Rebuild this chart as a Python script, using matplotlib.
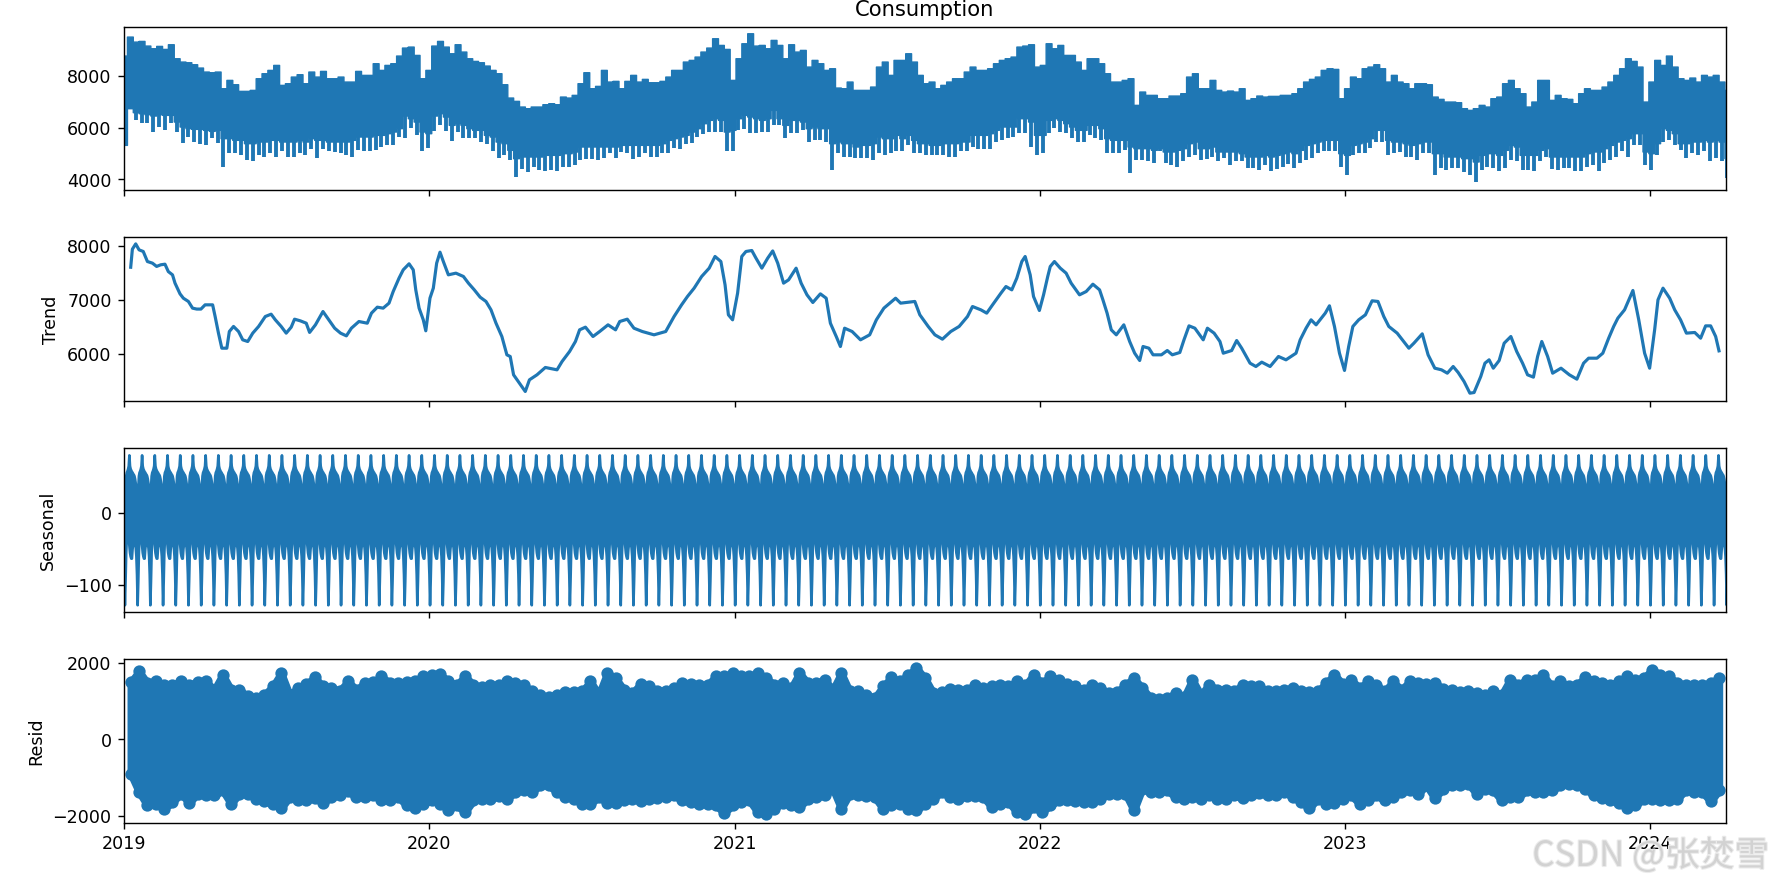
import numpy as np
import pandas as pd
import matplotlib
matplotlib.use("Agg")
import matplotlib.pyplot as plt
import matplotlib.dates as mdates
import matplotlib.patheffects as pe

START = pd.Timestamp("2019-01-01")
END_DAY = 1916
YEAR_LABELS = ["2019", "2020", "2021", "2022", "2023", "2024"]
TITLE = "Consumption"
YLABELS = ["Trend", "Seasonal", "Resid"]
WATERMARK = "CSDN @张焚雪"

# Consumption: weekly extremes (one value per 7 days)
consumption_high = [
    8772,9503,9310,9336,9157,9054,9144,9028,9208,8669,8541,8515,8438,8310,8156,8130,8156,7514,7835,7668,
    7412,7412,7450,7899,8092,8220,8412,7643,7707,7963,8053,7707,8156,7963,8181,7899,7899,7963,7771,7771,
    8181,8028,8028,8477,8220,8412,8477,8772,9080,9118,8797,7899,8220,9157,9336,9118,8861,9208,8926,8669,
    8566,8515,8387,8220,8092,7668,7155,7027,6809,6745,6809,6809,6898,6937,6898,7193,7155,7258,7707,8130,
    7514,7604,8220,7771,7797,7514,7797,8028,7771,
    7874,7745,7745,7797,7963,8220,8220,8541,8605,8733,8926,9080,9439,9182,9028,7835,8669,9246,9631,9157,
    9182,9054,9375,9182,8669,9208,8926,8990,8348,8605,8477,8220,8284,7540,7514,7771,7450,7450,7450,7578,
    8348,8541,8028,8605,8605,8861,8541,8028,7707,7771,7514,7643,7771,7899,7899,8156,8348,8220,8220,8284,
    8477,8605,8669,8733,9118,9157,9208,8348,8412,9246,9054,9182,8797,8797,8541,8220,8669,8669,8477,8092,
    7771,7771,7835,7899,6873,7386,7258,7258,7129,
    7129,7232,7232,7322,7963,8092,7514,7514,7835,7450,7386,7424,7386,7514,7065,7129,7232,7193,7219,7219,
    7258,7258,7322,7514,7771,7874,7963,8220,8284,8258,7129,7514,7963,7899,8284,8348,8438,8284,7771,8028,
    7771,7707,7514,7707,7707,7668,7193,7104,7001,7001,6975,6745,6680,6745,6873,6809,7129,7193,7707,7835,
    7514,7322,6809,7001,7835,7835,7065,7258,7129,7104,6937,7322,7514,7450,7450,7578,7771,8028,8284,8669,
    8566,8348,7001,7771,8605,8412,8772,8348,7899,7835,7925,7771,8028,7963,8028,7771,7450]
consumption_low = [
    5333,6745,6295,6167,6167,5821,6039,5911,6167,5846,5397,5654,5461,5359,5333,5590,5397,4461,5012,5012,
    4948,4756,4692,4923,4884,5012,4846,5077,4846,4859,5012,4948,5179,4820,5179,5077,5051,5012,4948,4884,
    5141,5077,5102,5141,5269,5333,5333,5654,5590,5975,5718,5077,5205,5872,6103,5872,5487,5846,5590,5590,
    5590,5461,5359,5102,4820,4948,4756,4076,4409,4281,4461,4371,4345,4371,4307,4499,4499,4538,4756,4794,
    4794,4756,4820,5012,4820,5051,5012,4794,4884,
    5012,4846,4884,5012,5012,5205,5179,5359,5397,5654,5744,5821,5821,5846,5102,5102,5911,5949,5782,5782,
    5821,5846,6103,6103,5590,5782,5782,5911,5436,5526,5526,5461,4371,5012,4884,4884,4820,4820,4820,4756,
    5012,4948,5012,5102,5077,5333,5012,5012,4948,4948,4923,4948,4884,4884,5102,5102,5269,5179,5179,5179,
    5461,5526,5590,5654,5782,5782,5269,4948,5012,5782,5975,5846,5782,5590,5436,5436,5718,5590,5526,5012,
    5012,5012,5141,4243,4756,4756,4692,4628,5077,
    4628,4563,4499,4692,4884,4948,4756,4794,4884,4692,4820,4538,4717,4692,4435,4435,4371,4563,4307,4409,
    4499,4589,4435,4628,4756,4820,5012,5077,5077,5102,4461,4179,4948,5012,5012,5205,5461,5461,4948,5012,
    5051,4884,4884,4756,5012,5012,4153,4435,4371,4435,4435,4281,4179,3896,4371,4499,4435,4307,4435,4756,
    4717,4371,4371,4307,4692,4846,4409,4371,4435,4435,4307,4345,4499,4563,4345,4628,4756,4884,5077,4884,
    5333,5333,4563,4371,4948,5461,5526,5333,5141,4820,5012,4923,5077,4692,4820,4692,4050]
consumption_notch = [
    5333,6745,6591,6552,6513,6462,6513,6488,6488,6231,6039,5975,5949,5949,5911,5872,5911,5590,5590,5526,
    5526,5397,5397,5461,5461,5526,5526,5461,5461,5461,5526,5461,5590,5526,5526,5461,5461,5461,5461,5526,
    5654,5654,5654,5718,5718,5782,5846,5975,6462,6359,6231,5846,5782,6462,6552,6423,6103,6167,6103,5975,
    5911,5911,5718,5654,5461,5397,5141,4820,4884,4884,4884,4884,4948,4948,4948,5012,5012,5077,5269,5269,
    5269,5269,5269,5269,5269,5333,5333,5333,5333,
    5333,5333,5333,5397,5526,5590,5654,5718,5846,5975,6167,6295,6359,6295,5846,5911,6359,6488,6424,6359,
    6295,6359,6680,6359,6103,6295,6295,6231,5975,6039,5975,5975,5397,5461,5397,5397,5269,5333,5333,5397,
    5654,5590,5590,5718,5590,5718,5526,5397,5397,5333,5333,5397,5397,5397,5461,5461,5718,5718,5718,5782,
    5911,6039,6039,6039,6359,6359,6231,5718,5718,6295,6359,6295,6167,6039,5911,5911,6103,6103,5975,5590,
    5526,5526,5526,5269,5205,5205,5205,5141,5205,
    5077,5077,5141,5205,5397,5461,5205,5205,5269,5077,5077,5077,5077,5012,4884,4884,4884,4948,4884,4948,
    5012,5077,5012,5141,5333,5397,5461,5526,5526,5526,5012,4948,5333,5397,5461,5590,5911,5911,5526,5461,
    5461,5397,5333,5397,5461,5461,5012,5012,4884,4884,4884,4820,4820,4692,4948,5012,5012,4948,5141,5333,
    5269,4948,4948,4948,5141,5205,4884,4884,4884,4884,4884,4884,5012,5077,5077,5205,5333,5461,5526,5590,
    5782,5782,5077,5012,5397,5975,5911,5782,5397,5397,5461,5461,5526,5461,5526,5461,4820]

# Trend: day since 2019-01-01 and value
trend_day = [8,10,14,18,23,28,34,39,44,49,53,58,61,67,71,77,82,87,92,97,106,109,113,117,123,126,131,137,142,148,
    154,161,169,176,181,188,194,200,204,211,218,222,229,238,245,252,259,266,272,281,291,296,303,310,317,322,329,334,341,346,
    349,353,358,361,366,370,374,378,382,388,397,406,412,419,426,433,439,445,452,458,462,466,473,480,485,494,504,518,524,533,
    540,545,552,561,569,579,588,593,602,610,620,634,648,658,667,674,682,691,700,707,714,719,723,728,734,739,744,751,756,763,
    770,776,782,789,795,804,810,817,824,833,840,845,852,857,862,871,881,892,900,909,923,
    929,946,952,962,970,979,989,999,1009,1015,1025,1032,1039,1049,1055,1062,1068,1074,1078,1084,1088,1095,1100,1105,1108,1113,1120,1127,1133,1143,
    1151,1159,1167,1171,1176,1181,1187,1196,1203,1209,1215,1219,1226,1231,1241,1248,1254,1263,1268,1274,1281,1291,1296,1304,1311,1315,1325,1331,1337,1347,
    1354,1361,1371,1381,1390,1402,1407,1414,1420,1426,1437,1442,1448,1454,1460,1465,1470,1477,1485,1493,1500,1507,1513,1523,1537,1543,1553,1560,1568,1576,
    1583,1590,1596,1603,1610,1615,1623,1628,1633,1638,1645,1651,1659,1666,1673,1679,1686,1691,1696,1703,1709,1719,1729,1738,1746,1752,1762,1769,1776,1782,
    1787,1795,1805,1812,1819,1825,1831,1835,1841,1849,1855,1862,1869,1879,1886,1892,1898,1904,1908]
trend_value = [7600,7932,8030,7920,7890,7705,7675,7615,7645,7656,7520,7460,7307,7110,7030,6970,6847,6830,6830,6908,6908,6693,6386,6110,6110,6417,6510,6417,6264,6233,
    6387,6510,6693,6736,6632,6510,6387,6497,6644,6613,6570,6400,6540,6785,6632,6478,6387,6337,6478,6601,6570,6755,6865,6847,6939,7153,7400,7552,7663,7552,
    7184,6847,6632,6430,7031,7215,7675,7877,7705,7460,7491,7430,7307,7184,7049,6970,6816,6570,6325,5988,5957,5620,5466,5313,5528,5620,5755,5712,5865,6049,
    6233,6448,6497,6325,6417,6540,6448,6601,6644,6478,6417,6356,6417,6693,6908,7061,7215,7430,7583,7798,7705,7276,6724,6632,7123,7798,7890,7908,7767,7583,
    7767,7900,7675,7307,7368,7583,7307,7092,6951,7110,7030,6570,6325,6141,6478,6417,6264,6356,6632,6847,7030,
    6939,6970,6724,6510,6356,6276,6417,6510,6693,6877,6816,6755,6908,7123,7245,7184,7400,7705,7798,7460,7061,6804,7092,7430,7613,7705,7583,7491,7307,7092,
    7153,7288,7184,7000,6755,6448,6356,6540,6233,6018,5883,6141,6110,5988,5988,6067,5988,6031,6264,6521,6478,6264,6478,6387,6233,6018,6067,6251,6110,5834,
    5773,5853,5773,5957,5896,6018,6264,6478,6632,6540,6755,6890,6510,6018,5700,6141,6510,6632,6724,6982,6970,6693,6510,6387,6110,6202,6374,5988,5742,5712,
    5650,5773,5662,5497,5282,5294,5589,5834,5896,5742,5883,6202,6325,6049,5834,5620,5577,5957,6233,5957,5650,5742,5620,5540,5834,5926,5926,6018,6294,6510,
    6663,6816,7172,6632,6018,5742,6448,7000,7215,7030,6816,6632,6387,6399,6294,6521,6521,6325,6061]

# Seasonal: one repeating cycle (365 hourly steps), upper and lower extremes
seasonal_cycle_days = 15.208
seasonal_cycle_high = [25,35,52,57,59,62,66,81,66,62,60,58,57,55,54,52,48,42,36,35]
seasonal_cycle_low = [-128,-95,-55,-35,-30,-25,-35,-45,-55,-60,-63,-63,-50,-42,-38,-38,-42,-48,-60,-85]
seasonal_first_spike_day = 0.5

# Residual: extremes per 10 days, starting on day 8
resid_high = [1500,
    1783,1478,1521,1434,1434,1521,1434,1504,1521,1304,1696,1304,1304,1129,1086,1173,1391,1739,1173,1347,
    1452,1626,1391,1347,1277,1521,1304,1478,1504,1652,1478,1478,1504,1539,1652,1696,1713,1521,1434,1652,
    1434,1365,1417,1417,1521,1478,1434,1260,1156,1103,1173,1243,1243,1260,1521,1173,1739,1609,1304,1217,
    1452,1391,1277,1277,1347,1478,1452,1417,1434,1652,1652,1739,1652,1652,1739,1609,1434,1478,1347,1739,
    1478,1478,1565,1304,1739,1260,1277,1173,1086,1391,1626,1521,1696,1870,1609,
    1217,1243,1330,1304,1304,1417,1347,1391,1417,1391,1521,1417,1696,1478,1652,1565,1452,1391,1304,1417,
    1347,1217,1243,1434,1609,1347,1086,1068,1086,1217,1103,1565,1173,1434,1304,1304,1277,1417,1391,1391,
    1260,1260,1304,1347,1260,1243,1260,1478,1696,1452,1565,1347,1521,1434,1260,1521,1304,1521,1478,1452,
    1478,1330,1304,1243,1277,1217,1173,1260,1173,1565,1434,1565,1565,1678,1391,1521,1391,1434,1626,1539,
    1478,1434,1521,1652,1565,1609,1826,1696,1652,1478,1434,1417,1417,1478,1609]
resid_low = [-900,
    -1381,-1730,-1686,-1817,-1643,-1425,-1660,-1425,-1451,-1468,-1338,-1686,-1425,-1425,-1556,-1625,-1686,-1799,-1512,-1599,
    -1599,-1538,-1660,-1512,-1468,-1364,-1512,-1512,-1451,-1599,-1599,-1512,-1730,-1799,-1686,-1599,-1686,-1843,-1730,-1904,
    -1599,-1573,-1556,-1494,-1556,-1381,-1338,-1381,-1190,-1207,-1381,-1512,-1556,-1686,-1686,-1512,-1660,-1660,-1599,-1556,
    -1625,-1573,-1538,-1512,-1468,-1599,-1643,-1686,-1686,-1730,-1921,-1730,-1643,-1599,-1904,-1947,-1817,-1660,-1712,-1773,
    -1556,-1512,-1468,-1294,-1817,-1425,-1468,-1486,-1512,-1817,-1730,-1686,-1817,-1860,-1686,
    -1556,-1381,-1512,-1556,-1486,-1486,-1512,-1773,-1686,-1643,-1904,-1965,-1773,-1904,-1730,-1599,-1599,-1625,-1643,-1643,
    -1556,-1425,-1425,-1425,-1860,-1294,-1381,-1381,-1338,-1512,-1556,-1512,-1556,-1468,-1556,-1556,-1468,-1538,-1468,-1399,
    -1468,-1451,-1381,-1512,-1643,-1799,-1556,-1686,-1660,-1556,-1468,-1686,-1599,-1468,-1599,-1512,-1381,-1338,-1425,-1207,
    -1538,-1294,-1207,-1207,-1164,-1425,-1294,-1338,-1599,-1512,-1512,-1338,-1381,-1381,-1338,-1207,-1164,-1207,-1294,-1468,
    -1538,-1599,-1660,-1799,-1730,-1556,-1556,-1599,-1599,-1556,-1338,-1381,-1381,-1625,-1338]

assert len(consumption_high) == len(consumption_low) == len(consumption_notch), (len(consumption_high), len(consumption_low), len(consumption_notch))
assert len(trend_day) == len(trend_value), (len(trend_day), len(trend_value))
assert len(resid_high) == len(resid_low), (len(resid_high), len(resid_low))


def to_dates(days):
    return START + pd.to_timedelta(np.asarray(days, dtype=float), unit="D")


C0 = "#1f77b4"
W, H, DPI = 1770, 883, 126.4
fig, axes = plt.subplots(4, 1, sharex=True, figsize=((W + 0.2) / DPI, (H + 0.2) / DPI), dpi=DPI)
boxes = [(27, 190), (237.5, 401), (448.5, 612), (659.5, 823)]
for ax, (t, b) in zip(axes, boxes):
    ax.set_position([124 / W, 1 - b / H, (1725.5 - 124) / W, (b - t) / H])

# Consumption
ax = axes[0]
days = np.arange(len(consumption_high)) * 7
x = to_dates(days)
ax.fill_between(x, consumption_notch, consumption_high, color=C0, lw=0.8, step="mid")
ax.vlines(x, consumption_low, consumption_notch, color=C0, lw=2.2)
ax.set_ylim(3600, 9880)
ax.set_yticks([4000, 6000, 8000])
ax.set_title(TITLE)

# Trend
ax = axes[1]
ax.plot(to_dates(trend_day), trend_value, color=C0, lw=1.8)
ax.set_ylim(5140, 8150)
ax.set_yticks([6000, 7000, 8000])
ax.set_ylabel(YLABELS[0])

# Seasonal
ax = axes[2]
n_cycles = int(END_DAY / seasonal_cycle_days) + 3
step = seasonal_cycle_days / len(seasonal_cycle_high)
season_days = seasonal_first_spike_day - seasonal_cycle_days + np.arange(n_cycles * len(seasonal_cycle_high)) * step
ax.fill_between(to_dates(season_days), np.tile(seasonal_cycle_low, n_cycles), np.tile(seasonal_cycle_high, n_cycles),
                color=C0, lw=1.5)
ax.set_ylim(-138, 90)
ax.set_yticks([-100, 0])
ax.set_ylabel(YLABELS[1])

# Resid: a wide round stroke fills the gaps between the overlapping round markers
ax = axes[3]
resid_days = 8 + np.arange(len(resid_high)) * 10
x = to_dates(resid_days)
ax.fill_between(x, resid_low, resid_high, color=C0, lw=4.2, joinstyle="round", capstyle="round")
ax.plot(x, resid_high, "o", color=C0, ms=6)
ax.plot(x, resid_low, "o", color=C0, ms=6)
ax.set_ylim(-2190, 2097)
ax.set_yticks([-2000, 0, 2000])
ax.set_ylabel(YLABELS[2])

ax.set_xlim(START, START + pd.Timedelta(days=END_DAY))
ax.set_xticks(pd.to_datetime([y + "-01-01" for y in YEAR_LABELS]))
ax.xaxis.set_major_formatter(mdates.DateFormatter("%Y"))

fig.text(1769 / W, 1 - 866 / H, WATERMARK, ha="right", va="baseline", fontsize=19.8,
         family=["Noto Sans CJK SC", "DejaVu Sans"], color="#d2d2d2",
         path_effects=[pe.withStroke(linewidth=1.2, foreground="#ebebeb")], zorder=10)

fig.savefig("out.png", dpi=DPI)
